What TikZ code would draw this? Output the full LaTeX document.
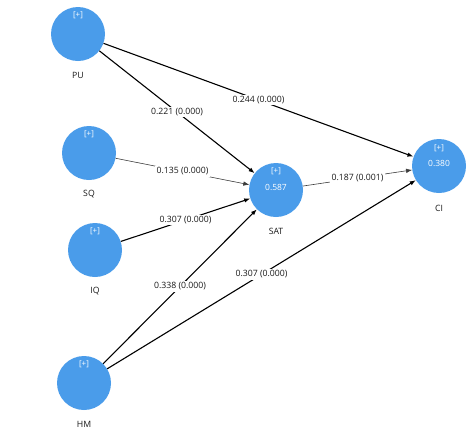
\documentclass[tikz,border=0pt]{standalone}
\usepackage{fontspec}
\setmainfont{Open Sans}
\usetikzlibrary{arrows.meta}
\definecolor{lvblue}{RGB}{74,156,234}
\definecolor{edgegray}{RGB}{60,60,60}
\begin{document}
\begin{tikzpicture}[x=1pt,y=-1pt,
  lv/.style={circle,fill=lvblue,draw=none,minimum size=54pt,inner sep=0pt},
  plusmark/.style={text=white,font=\fontsize{8}{9}\selectfont,inner sep=0pt},
  rval/.style={text=white,font=\fontsize{8.5}{10}\selectfont,inner sep=0pt},
  lvname/.style={text=black!90,font=\fontsize{8.7}{10}\selectfont,inner sep=0pt},
  elabel/.style={fill=white,text=black!90,font=\fontsize{8.7}{10}\selectfont,inner sep=1.2pt,pos=0.5},
  strong/.style={draw=black,line width=1.1pt,-{Latex[length=6pt,width=4.5pt]}},
  weak/.style={draw=edgegray,line width=0.6pt,-{Latex[length=6pt,width=4.5pt]}}
]
\useasboundingbox (0,0) rectangle (474,432);
% latent variables
\node[lv] (PU) at (78,34) {};
\node[lv] (SQ) at (89,153) {};
\node[lv] (IQ) at (95,250) {};
\node[lv] (HM) at (84,383) {};
\node[lv] (SAT) at (276,190) {};
\node[lv] (CI) at (439,166) {};
% [+] marks
\node[plusmark] (PUp) at ([yshift=19pt]PU.center) {[+]};
\node[plusmark] (SQp) at ([yshift=19pt]SQ.center) {[+]};
\node[plusmark] (IQp) at ([yshift=19pt]IQ.center) {[+]};
\node[plusmark] (HMp) at ([yshift=19pt]HM.center) {[+]};
\node[plusmark] (SATp) at ([yshift=19pt]SAT.center) {[+]};
\node[plusmark] (CIp) at ([yshift=18pt]CI.center) {[+]};
% R2 values
\node[rval] (SATv) at ([yshift=3pt]SAT.center) {0.587};
\node[rval] (CIv) at ([yshift=3pt]CI.center) {0.380};
% names
\node[lvname] (PUn) at ([yshift=-41pt]PU.center) {PU};
\node[lvname] (SQn) at ([yshift=-41pt]SQ.center) {SQ};
\node[lvname] (IQn) at ([yshift=-41pt]IQ.center) {IQ};
\node[lvname] (HMn) at ([yshift=-41pt]HM.center) {HM};
\node[lvname] (SATn) at ([yshift=-41pt]SAT.center) {SAT};
\node[lvname] (CIn) at ([yshift=-42pt]CI.center) {CI};
% paths
\draw[strong] (PU) -- node[elabel]{0.221 (0.000)} (SAT);
\draw[strong] (PU) -- node[elabel]{0.244 (0.000)} (CI);
\draw[weak] (SQ) -- node[elabel]{0.135 (0.000)} (SAT);
\draw[strong] (IQ) -- node[elabel]{0.307 (0.000)} (SAT);
\draw[strong] (HM) -- node[elabel]{0.338 (0.000)} (SAT);
\draw[strong] (HM) -- node[elabel]{0.307 (0.000)} (CI);
\draw[weak] (SAT) -- node[elabel]{0.187 (0.001)} (CI);
\end{tikzpicture}
\end{document}
